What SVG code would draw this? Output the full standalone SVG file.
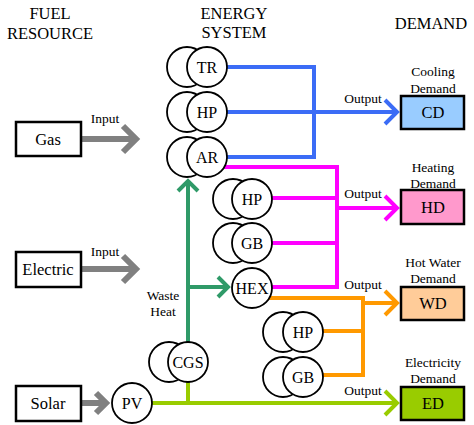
<svg xmlns="http://www.w3.org/2000/svg" width="474" height="425" viewBox="0 0 474 425" font-family="'Liberation Serif', 'DejaVu Serif', 'Times New Roman', serif">
<style>
text{font-family:'Liberation Serif','DejaVu Serif','Times New Roman',serif;fill:#000;text-anchor:middle}
.h{font-size:16.5px}
.b{font-size:16.5px}
.c{font-size:16px}
.l{font-size:13.5px}
.box{stroke:#000;stroke-width:2.5}
.cir{fill:#fff;stroke:#000;stroke-width:1.8}
.ln{fill:none;stroke-width:4;stroke-linejoin:miter}
.blue{stroke:#3b6cf6}
.mag{stroke:#ff00ff}
.org{stroke:#ff9900}
.lg{stroke:#99cc00}
.dg{stroke:#2f9a68}
.gr{fill:none;stroke:#808080;stroke-width:6}
</style>
<rect width="474" height="425" fill="#fff"/>
<g id="headings">
<text class="h" x="50" y="19">FUEL</text>
<text class="h" x="50" y="39">RESOURCE</text>
<text class="h" x="234" y="19">ENERGY</text>
<text class="h" x="234" y="38">SYSTEM</text>
<text class="h" x="431" y="29">DEMAND</text>
</g>
<g id="connectors">
<path class="ln blue" d="M227,67 H314 V157 H227"/>
<path class="ln blue" d="M227,112 H397"/>
<polyline class="ln blue" points="385,100 397,112 385,124"/>
<path class="ln mag" d="M224,167 H337 V287 H272"/>
<path class="ln mag" d="M272,198 H337 M272,243 H337 M337,208 H397"/>
<polyline class="ln mag" points="385,196 397,208 385,220"/>
<path class="ln org" d="M269,298 H363 V375 H323"/>
<path class="ln org" d="M323,331 H363 M363,303 H397"/>
<polyline class="ln org" points="385,291 397,303 385,315"/>
<path class="ln lg" d="M152,403 H397 M188,381 V403"/>
<polyline class="ln lg" points="385,391 397,403 385,415"/>
<path class="ln dg" d="M188,342 V181 M188,287 H228"/>
<polyline class="ln dg" points="178,191 188,181 198,191"/>
<polyline class="ln dg" points="218,277 228,287 218,297"/>
<path class="gr" d="M81,139 H136 M81,269 H136 M81,403 H106"/>
<polyline class="gr" points="123,126 136,139 123,152"/>
<polyline class="gr" points="123,256 136,269 123,282"/>
<polyline class="gr" points="96,393 106,403 96,413"/>
</g>
<g id="labels">
<text class="l" x="105" y="123">Input</text>
<text class="l" x="105" y="256">Input</text>
<text class="l" x="363" y="103">Output</text>
<text class="l" x="363" y="198">Output</text>
<text class="l" x="363" y="289">Output</text>
<text class="l" x="363" y="395">Output</text>
<text class="l" x="163" y="300">Waste</text>
<text class="l" x="163" y="316">Heat</text>
</g>
<g id="gas"><rect class="box" x="16" y="122" width="65" height="34" fill="#fff"/><text class="b" x="48" y="145">Gas</text></g>
<g id="electric"><rect class="box" x="16" y="252" width="65" height="35" fill="#fff"/><text class="b" x="48" y="275">Electric</text></g>
<g id="solar"><rect class="box" x="16" y="386" width="65" height="35" fill="#fff"/><text class="b" x="48" y="409">Solar</text></g>
<g id="tr"><circle class="cir" cx="187" cy="67" r="20"/><circle class="cir" cx="207" cy="67" r="20"/><text class="c" x="207" y="73">TR</text></g>
<g id="hp1"><circle class="cir" cx="187" cy="112" r="20"/><circle class="cir" cx="207" cy="112" r="20"/><text class="c" x="207" y="118">HP</text></g>
<g id="ar"><circle class="cir" cx="187" cy="157" r="20"/><circle class="cir" cx="207" cy="157" r="20"/><text class="c" x="207" y="163">AR</text></g>
<g id="hp2"><circle class="cir" cx="233" cy="199" r="20"/><circle class="cir" cx="252" cy="199" r="20"/><text class="c" x="252" y="205">HP</text></g>
<g id="gb2"><circle class="cir" cx="233" cy="243" r="20"/><circle class="cir" cx="252" cy="243" r="20"/><text class="c" x="252" y="249">GB</text></g>
<g id="hex"><circle class="cir" cx="252" cy="288" r="20"/><text class="c" x="252" y="294">HEX</text></g>
<g id="hp3"><circle class="cir" cx="283" cy="332" r="20"/><circle class="cir" cx="303" cy="332" r="20"/><text class="c" x="303" y="338">HP</text></g>
<g id="gb3"><circle class="cir" cx="283" cy="377" r="20"/><circle class="cir" cx="303" cy="377" r="20"/><text class="c" x="303" y="383">GB</text></g>
<g id="cgs"><circle class="cir" cx="169" cy="362" r="20"/><circle class="cir" cx="188" cy="362" r="20"/><text class="c" x="188" y="368">CGS</text></g>
<g id="pv"><circle class="cir" cx="132" cy="403" r="20"/><text class="c" x="132" y="409">PV</text></g>
<g id="cd"><text class="l" x="433" y="76">Cooling</text><text class="l" x="433" y="93">Demand</text><rect class="box" x="401" y="96" width="63" height="33" fill="#99ccff"/><text class="b" x="433" y="118">CD</text></g>
<g id="hd"><text class="l" x="433" y="172">Heating</text><text class="l" x="433" y="188">Demand</text><rect class="box" x="401" y="190" width="63" height="34" fill="#ff99cc"/><text class="b" x="433" y="213">HD</text></g>
<g id="wd"><text class="l" x="433" y="267">Hot Water</text><text class="l" x="433" y="283">Demand</text><rect class="box" x="401" y="287" width="63" height="33" fill="#ffcc99"/><text class="b" x="433" y="309">WD</text></g>
<g id="ed"><text class="l" x="433" y="367">Electricity</text><text class="l" x="433" y="383">Demand</text><rect class="box" x="401" y="387" width="63" height="33" fill="#99cc00"/><text class="b" x="433" y="409">ED</text></g>
</svg>
